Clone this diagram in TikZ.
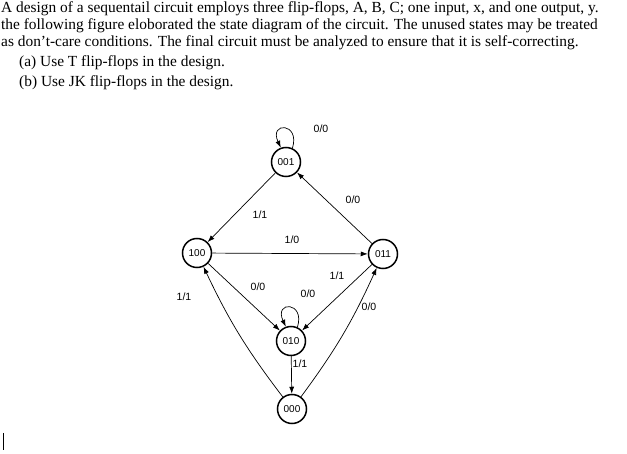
\documentclass[tikz,border=0pt]{standalone}
\usepackage{fontspec}
\setmainfont{Liberation Serif}
\newfontfamily\lblfont{Liberation Sans}
\usetikzlibrary{arrows.meta}
\begin{document}
\begin{tikzpicture}[x=1pt,y=-1pt,
  st/.style={circle,draw,line width=1.5pt,minimum size=29pt,inner sep=0pt,font=\lblfont\fontsize{10}{11}\selectfont},
  tr/.style={-{Latex[length=7pt,width=5pt]},line width=0.7pt},
  lb/.style={font=\lblfont\fontsize{10.5}{11}\selectfont},
  txt/.style={anchor=base west,inner sep=0pt,font=\fontsize{15.4}{17}\selectfont}]
\useasboundingbox (0,0) rectangle (627,454);
\node[txt] (t1) at (1,13) {A design of a sequentail circuit employs three flip-flops, A, B, C; one input, x, and one output, y.};
\node[txt] (t2) at (1,30) {the following figure eloborated the state diagram of the circuit. The unused states may be treated};
\node[txt] (t3) at (1,47) {as don't-care conditions. The final circuit must be analyzed to ensure that it is self-correcting.};
\node[txt] (t4) at (19,67) {(a) Use T flip-flops in the design.};
\node[txt] (t5) at (19,87) {(b) Use JK flip-flops in the design.};
\node[st] (s001) at (286,162) {001};
\node[st] (s100) at (197,253) {100};
\node[st] (s011) at (383,254) {011};
\node[st] (s010) at (291,341) {010};
\node[st] (s000) at (292,409) {000};
\draw[tr] (s001.65) .. controls +(8,-26) and +(-12,-26) .. (s001.110);
\draw[tr] (s010.65) .. controls +(8,-26) and +(-12,-26) .. (s010.110);
\draw[tr] (s001) -- (s100);
\draw[tr] (s011) -- (s001);
\draw[tr] (s100) -- (s011);
\draw[tr] (s100) -- (s010);
\draw[tr] (s011) -- (s010);
\draw[tr] (s010) -- (s000);
\draw[tr] (s000) to[bend left=6] (s100);
\draw[tr] (s000) to[bend right=6] (s011);
\node[lb] (l1) at (321,129) {0/0};
\node[lb] (l2) at (353,200) {0/0};
\node[lb] (l3) at (260,215) {1/1};
\node[lb] (l4) at (292,240) {1/0};
\node[lb] (l5) at (337,276) {1/1};
\node[lb] (l6) at (258,287) {0/0};
\node[lb] (l7) at (308,294) {0/0};
\node[lb] (l8) at (184,297) {1/1};
\node[lb] (l9) at (369,307) {0/0};
\node[lb] (l10) at (300,364) {1/1};
\coordinate (c1) at (3,433);
\coordinate (c2) at (3,450);
\draw[line width=0.8pt] (c1) -- (c2);
\end{tikzpicture}
\end{document}
